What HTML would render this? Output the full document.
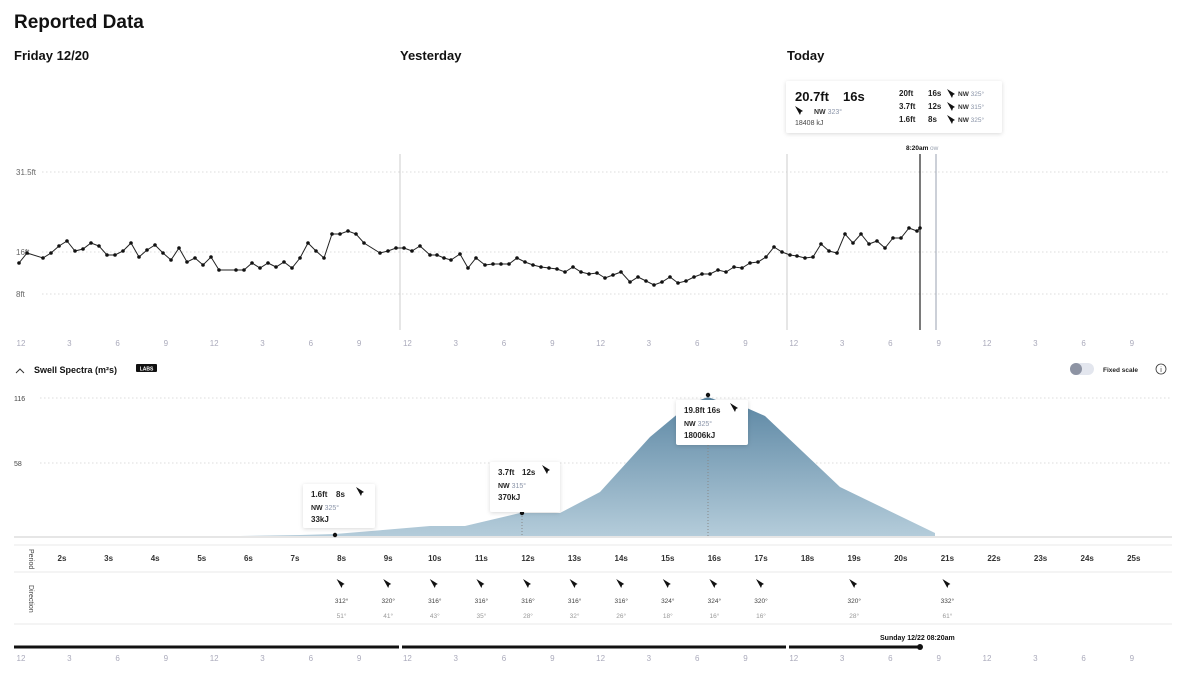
<!DOCTYPE html>
<html><head><meta charset="utf-8"><style>
body{margin:0;background:#fff;width:1200px;height:675px;overflow:hidden;font-family:"Liberation Sans",sans-serif}
svg text{font-family:"Liberation Sans",sans-serif;white-space:pre}
</style></head><body>
<svg width="1200" height="675" viewBox="0 0 1200 675" xmlns="http://www.w3.org/2000/svg">
<defs>
<linearGradient id="g" x1="0" y1="0" x2="0" y2="1"><stop offset="0" stop-color="#5b86a3"/><stop offset="1" stop-color="#b4ccda"/></linearGradient>
<g id="ar"><polygon points="-4,-4 4,1 2,2 1,5" fill="#111"/></g>
<filter id="sh" x="-10%" y="-10%" width="120%" height="130%"><feDropShadow dx="0" dy="1" stdDeviation="2" flood-opacity="0.15"/></filter>
</defs>
<text x="14" y="28" font-size="19" font-weight="bold" fill="#111">Reported Data</text>
<text x="14" y="60" font-size="13" font-weight="bold" fill="#111">Friday 12/20</text>
<text x="400" y="60" font-size="13" font-weight="bold" fill="#111">Yesterday</text>
<text x="787" y="60" font-size="13" font-weight="bold" fill="#111">Today</text>
<rect x="786" y="81" width="216" height="52" fill="#fff" filter="url(#sh)" rx="2"/>
<text x="795" y="101" font-size="13" font-weight="bold" fill="#111">20.7ft</text>
<text x="843" y="101" font-size="13" font-weight="bold" fill="#111">16s</text>
<use href="#ar" x="799" y="110"/>
<text x="814" y="114" font-size="7" font-weight="bold" fill="#333">NW <tspan fill="#8a94a8" font-weight="normal">323°</tspan></text>
<text x="795" y="125" font-size="7" fill="#444">18408 kJ</text>
<g font-size="8" fill="#222" font-weight="bold">
<text x="899" y="96">20ft</text><text x="928" y="96">16s</text>
<text x="899" y="109">3.7ft</text><text x="928" y="109">12s</text>
<text x="899" y="122">1.6ft</text><text x="928" y="122">8s</text>
</g>
<g font-size="6.5" font-weight="bold" fill="#333">
<text x="958" y="96">NW <tspan fill="#8a94a8" font-weight="normal">325°</tspan></text>
<text x="958" y="109">NW <tspan fill="#8a94a8" font-weight="normal">315°</tspan></text>
<text x="958" y="122">NW <tspan fill="#8a94a8" font-weight="normal">325°</tspan></text>
</g>
<use href="#ar" x="951" y="93"/><use href="#ar" x="951" y="106"/><use href="#ar" x="951" y="119"/>
<g stroke="#ddd" stroke-dasharray="1.5,2.5" stroke-width="1">
<line x1="42" y1="172" x2="1170" y2="172"/><line x1="42" y1="252" x2="1170" y2="252"/><line x1="42" y1="294" x2="1170" y2="294"/>
</g>
<g font-size="8" fill="#666"><text x="16" y="175">31.5ft</text><text x="16" y="255">16ft</text><text x="16" y="297">8ft</text></g>
<line x1="400" y1="154" x2="400" y2="330" stroke="#ccc"/>
<line x1="787" y1="154" x2="787" y2="330" stroke="#ccc"/>
<line x1="920" y1="154" x2="920" y2="330" stroke="#222" stroke-width="1.2"/>
<line x1="936" y1="154" x2="936" y2="330" stroke="#9aa2b0"/>
<text x="906" y="150" font-size="6.5" font-weight="bold" fill="#111">8:20am</text><text x="930" y="150" font-size="6.5" fill="#9aa2b0">ow</text>
<polyline id="ln" fill="none" stroke="#222" stroke-width="1" points="19,263 27,253 43,258 51,253 59,246 67,241 75,251 83,249 91,243 99,246 107,255 115,255 123,251 131,243 139,257 147,250 155,245 163,253 171,260 179,248 187,262 195,258 203,265 211,257 219,270 236,270 244,270 252,263 260,268 268,263 276,267 284,262 292,268 300,258 308,243 316,251 324,258 332,234 340,234 348,231 356,234 364,243 380,253 388,251 396,248 404,248 412,251 420,246 430,255 437,255 444,258 451,260 460,254 468,268 476,258 485,265 493,264 501,264 509,264 517,258 525,262 533,265 541,267 549,268 557,269 565,272 573,267 581,272 589,274 597,273 605,278 613,275 621,272 630,282 638,277 646,281 654,285 662,282 670,277 678,283 686,281 694,277 702,274 710,274 718,270 726,272 734,267 742,268 750,263 758,262 766,257 774,247 782,252 790,255 797,256 805,258 813,257 821,244 829,251 837,253 845,234 853,243 861,234 869,244 877,241 885,248 893,238 901,238 909,228 917,231 920,228"/>
<g fill="#111" id="dots"></g>
<g font-size="8" fill="#aab" text-anchor="middle" id="tl1"></g>
<polyline points="16,373 20,369 24,373" fill="none" stroke="#333" stroke-width="1"/>
<text x="34" y="373" font-size="9" font-weight="bold" fill="#111">Swell Spectra (m²s)</text>
<rect x="136" y="364" width="21" height="8" fill="#111" rx="1"/><text x="146.5" y="370.5" font-size="5" fill="#fff" text-anchor="middle" font-weight="bold">LABS</text>
<rect x="1070" y="363" width="24" height="12" rx="6" fill="#e3e6ee"/><circle cx="1076" cy="369" r="6" fill="#8d93a3"/>
<text x="1103" y="372" font-size="6.5" font-weight="bold" fill="#222">Fixed scale</text>
<circle cx="1161" cy="369" r="5" fill="none" stroke="#333" stroke-width="0.8"/><text x="1161" y="372" font-size="7" text-anchor="middle" fill="#333">i</text>
<g stroke="#ddd" stroke-dasharray="1.5,2.5"><line x1="40" y1="398" x2="1172" y2="398"/><line x1="40" y1="463" x2="1172" y2="463"/></g>
<g font-size="7" fill="#444"><text x="14" y="401">116</text><text x="14" y="466">58</text></g>
<polygon fill="url(#g)" points="240,536 300,535 335,534 383,530 430,526 465,526 520,513 560,513 600,492 650,437 680,412 700,400 708,397 716,400 740,405 765,416 840,487 935,533 935,536"/>
<line x1="14" y1="537" x2="1172" y2="537" stroke="#e6e6e6" stroke-width="2"/>
<g stroke="#888" stroke-dasharray="1,2"><line x1="522" y1="513" x2="522" y2="537"/><line x1="708" y1="397" x2="708" y2="537"/></g>
<circle cx="335" cy="535" r="2.2" fill="#111"/><circle cx="522" cy="513" r="2.2" fill="#111"/><circle cx="708" cy="395" r="2.2" fill="#111"/>
<rect x="303" y="484" width="72" height="44" fill="#fff" filter="url(#sh)" rx="2"/>
<text x="311" y="497" font-size="8" font-weight="bold" fill="#222">1.6ft</text><text x="336" y="497" font-size="8" font-weight="bold" fill="#222">8s</text><use href="#ar" x="360" y="491"/>
<text x="311" y="510" font-size="7" font-weight="bold" fill="#222">NW <tspan fill="#8a94a8" font-weight="normal">325°</tspan></text>
<text x="311" y="522" font-size="8" font-weight="bold" fill="#222">33kJ</text>
<rect x="490" y="462" width="70" height="50" fill="#fff" filter="url(#sh)" rx="2"/>
<text x="498" y="475" font-size="8" font-weight="bold" fill="#222">3.7ft</text><text x="522" y="475" font-size="8" font-weight="bold" fill="#222">12s</text><use href="#ar" x="546" y="469"/>
<text x="498" y="488" font-size="7" font-weight="bold" fill="#222">NW <tspan fill="#8a94a8" font-weight="normal">315°</tspan></text>
<text x="498" y="500" font-size="8" font-weight="bold" fill="#222">370kJ</text>
<rect x="676" y="400" width="72" height="45" fill="#fff" filter="url(#sh)" rx="2"/>
<text x="684" y="413" font-size="8" font-weight="bold" fill="#222">19.8ft 16s</text><use href="#ar" x="734" y="407"/>
<text x="684" y="426" font-size="7" font-weight="bold" fill="#222">NW <tspan fill="#8a94a8" font-weight="normal">325°</tspan></text>
<text x="684" y="438" font-size="8" font-weight="bold" fill="#222">18006kJ</text>
<g stroke="#e8e8e8"><line x1="14" y1="545" x2="1172" y2="545"/><line x1="14" y1="572" x2="1172" y2="572"/><line x1="14" y1="624" x2="1172" y2="624"/></g>
<text transform="translate(29,549) rotate(90)" font-size="7" fill="#444">Period</text>
<text transform="translate(29,585) rotate(90)" font-size="7" fill="#444">Direction</text>
<g font-size="8" font-weight="bold" fill="#333" text-anchor="middle" id="per"></g>
<g id="dir"></g>
<g stroke="#111" stroke-width="3"><line x1="14" y1="647" x2="399" y2="647"/><line x1="402" y1="647" x2="786" y2="647"/><line x1="789" y1="647" x2="920" y2="647"/></g>
<circle cx="920" cy="647" r="3" fill="#111"/>
<text x="880" y="640" font-size="7" font-weight="bold" fill="#111">Sunday 12/22 08:20am</text>
<g font-size="8" fill="#aab" text-anchor="middle" id="tl2"></g>
</svg>
<script>
var NS="http://www.w3.org/2000/svg";
function el(p,t,a,txt){var e=document.createElementNS(NS,t);for(var k in a)e.setAttribute(k,a[k]);if(txt!=null)e.textContent=txt;document.getElementById(p).appendChild(e);return e;}
var pts=document.getElementById("ln").getAttribute("points").trim().split(/\s+/);
pts.forEach(function(p){var c=p.split(",");el("dots","circle",{cx:c[0],cy:c[1],r:1.8});});
var lab=["12","3","6","9"];
for(var i=0;i<24;i++){var x=21+48.3*i;el("tl1","text",{x:x,y:346},lab[i%4]);el("tl2","text",{x:x,y:661},lab[i%4]);}
for(var p=2;p<=25;p++){el("per","text",{x:62+46.6*(p-2),y:561},p+"s");}
var d=[[8,312,51],[9,320,41],[10,316,43],[11,316,35],[12,316,28],[13,316,32],[14,316,26],[15,324,18],[16,324,16],[17,320,16],[19,320,28],[21,332,61]];
d.forEach(function(r){var x=62+46.6*(r[0]-2);el("dir","use",{href:"#ar",x:x-1,y:583});
el("dir","text",{x:x,y:603,"font-size":6.5,fill:"#444","text-anchor":"middle"},r[1]+"°");
el("dir","text",{x:x,y:618,"font-size":6.5,fill:"#999","text-anchor":"middle"},r[2]+"°");});
</script>
</body></html>
